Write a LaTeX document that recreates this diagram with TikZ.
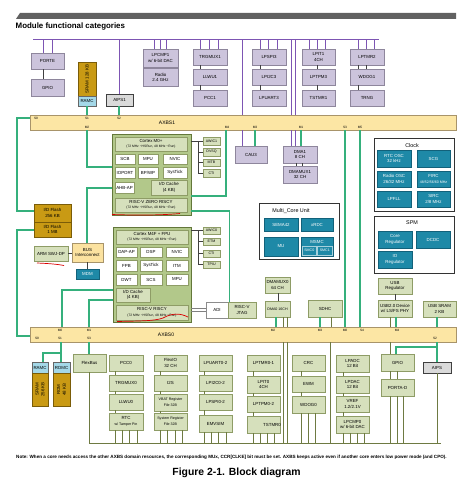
\documentclass[tikz,border=0pt]{standalone}
\usepackage{fontspec}
\setmainfont{Liberation Sans}
\definecolor{clav}{HTML}{CCC4DC}
\definecolor{clavd}{HTML}{8E869C}
\definecolor{cpurp}{HTML}{7D55B3}
\definecolor{cgrn}{HTML}{35B07C}
\definecolor{clgr}{HTML}{D6E0BC}
\definecolor{clgrd}{HTML}{8E9C66}
\definecolor{cmgr}{HTML}{B2C88A}
\definecolor{cmgrd}{HTML}{63773A}
\definecolor{caxb}{HTML}{FCE6A4}
\definecolor{caxbd}{HTML}{A8946A}
\definecolor{cgold}{HTML}{C99A14}
\definecolor{cgoldd}{HTML}{7A5C08}
\definecolor{ccyan}{HTML}{A4D8E8}
\definecolor{cteal}{HTML}{1E89A7}
\definecolor{ctealdk}{HTML}{12617A}
\definecolor{colv}{HTML}{6E7A42}
\definecolor{cgray}{HTML}{DADADA}
\definecolor{cbus}{HTML}{FBE2A0}
\newcommand\fBox{\fontsize{4.4}{5.6}\selectfont}
\newcommand\fSm{\fontsize{3.2}{3.8}\selectfont}
\newcommand\fFrq{\fontsize{3.3}{4.2}\selectfont}
\newcommand\fTtl{\fontsize{5.4}{6.4}\selectfont}
\newcommand\fTiny{\fontsize{3.6}{4.4}\selectfont}
\newcommand\frq{{\fFrq (72 MHz \textasciitilde HSRun, 48 MHz \textasciitilde Run)}}
\newcommand\bx[7]{\node[#1, minimum width={(#5-#3)*1pt}, minimum height={(#6-#4)*1pt}] (#2) at ({(#3+#5)/2},{(#4+#6)/2}) {#7};}
\newcommand\vl[4]{\draw[#1] (#2 -| #4,0) -- (#3 -| #4,0);}
\begin{document}
\begin{tikzpicture}[x=1pt,y=-1pt,
  bb/.style={font=\fBox, align=center, inner sep=0.2pt, line width=0.5pt},
  lv/.style={bb, fill=clav, draw=clavd},
  lg/.style={bb, fill=clgr, draw=clgrd},
  wb/.style={bb, fill=white, draw=clgrd},
  wg/.style={bb, fill=white, draw=black!45},
  tl/.style={bb, fill=cteal, draw=ctealdk, text=white},
  tls/.style={bb, font=\fTiny, fill=cteal, draw=white!60!cteal, text=white},
  gd/.style={bb, fill=cgold, draw=cgoldd},
  cy/.style={bb, fill=ccyan, draw=black!60},
  gy/.style={bb, fill=cgray, draw=black!75},
  mg/.style={bb, fill=cmgr, draw=cmgrd, line width=0.8pt},
  ax/.style={bb, fill=caxb, draw=caxbd, line width=0.6pt},
  bi/.style={bb, fill=cbus, draw=caxbd},
  bk/.style={bb, fill=white, draw=black!80, line width=0.9pt},
  sm/.style={bb, font=\fTiny},
  pl/.style={draw=cpurp, line width=0.8pt},
  gl/.style={draw=cgrn, line width=1.1pt},
  ol/.style={draw=colv, line width=0.8pt},
  kl/.style={draw=black!75, line width=0.6pt},
  pt/.style={font=\fSm, inner sep=0pt},
  tt/.style={font=\fTtl, inner sep=0pt},
  redl/.style={draw=red!85!black, line width=0.7pt}
]
\useasboundingbox (0,0) rectangle (474,486);
\fill[white] (0,0) rectangle (474,486);
\fill[black!62] (16,19) -- (20,13) -- (456,13) -- (456,19) -- cycle;
\node[anchor=west, inner sep=0, font=\bfseries\fontsize{7.9}{9}\selectfont] (title) at (15.5,26.5) {Module functional categories};

% ---------- top peripheral bus ----------
\coordinate (tbusW) at (33,39.5);
\coordinate (tbusE) at (379,39.5);
\draw[pl] (tbusW) -- (tbusE);

\bx{lv}{porte}{31}{53}{64}{69}{PORTE}
\bx{lv}{gpio1}{31}{79}{64}{96}{GPIO}
\bx{gd}{sram1}{78}{62}{96}{96}{}
\node[rotate=90, font=\fBox, inner sep=0] (sram1t) at (sram1) {SRAM 128 KB};
\bx{cy}{ramc1}{78}{96}{96}{106}{RAMC}
\bx{gy}{aips1}{106}{94}{133}{106}{AIPS1}
\bx{lv}{lpcmp1}{143}{49}{178}{67}{LPCMP1\\w/ 6-bit DAC}
\bx{lv}{radio}{143}{68.5}{178}{86}{Radio\\2.4 GHz}
\bx{lv}{trgmux1}{193}{49}{227}{65}{TRGMUX1}
\bx{lv}{llwu1}{193}{69}{227}{85}{LLWU1}
\bx{lv}{pcc1}{193}{90}{227}{106}{PCC1}
\bx{lv}{lpspi3}{252}{49}{286}{65}{LPSPI3}
\bx{lv}{lpi2c3}{252}{69}{286}{85}{LPI2C3}
\bx{lv}{lpuart3}{252}{90}{286}{106}{LPUART3}
\bx{lv}{lpit1}{302}{49}{335}{65}{LPIT1\\4CH}
\bx{lv}{lptpm3}{302}{69}{335}{85}{LPTPM3}
\bx{lv}{tstmr1}{302}{90}{335}{106}{TSTMR1}
\bx{lv}{lptmr2}{350}{49}{384}{65}{LPTMR2}
\bx{lv}{wdog1}{350}{69}{384}{85}{WDOG1}
\bx{lv}{trng}{350}{90}{384}{106}{TRNG}

\bx{ax}{axbs1}{30}{115}{456}{130}{}
\node[font=\fontsize{5}{6}\selectfont, inner sep=0] (axbs1l) at (167,122.5) {AXBS1};
\node[pt] (a1s0) at (36,118.5) {S0};
\node[pt] (a1s1) at (87,118.5) {S1};
\node[pt] (a1s2) at (119,118.5) {S2};
\node[pt] (a1m2) at (87,127.5) {M2};
\node[pt] (a1m4) at (227,127.5) {M4};
\node[pt] (a1m3) at (255,127.5) {M3};
\node[pt] (a1m1) at (301,127.5) {M1};
\node[pt] (a1s3) at (345,127.5) {S3};
\node[pt] (a1m5) at (360,127.5) {M5};

\foreach \x in {43,52} {\vl{pl}{tbusW}{porte.north}{\x}}
\vl{pl}{tbusW}{aips1.north}{119}
\foreach \x in {154,160,166} {\vl{pl}{tbusW}{lpcmp1.north}{\x}}
\foreach \x in {200,209,218} {\vl{pl}{tbusW}{trgmux1.north}{\x}}
\foreach \x in {260,268,277} {\vl{pl}{tbusW}{lpspi3.north}{\x}}
\foreach \x in {309,317,325} {\vl{pl}{tbusW}{lpit1.north}{\x}}
\foreach \x in {358,366,374} {\vl{pl}{tbusW}{lptmr2.north}{\x}}
\foreach \x in {242,291,295} {\vl{pl}{tbusW}{axbs1.north}{\x}}
\vl{kl}{porte.south}{gpio1.north}{43}
\vl{kl}{trgmux1.south}{llwu1.north}{200}
\vl{kl}{llwu1.south}{pcc1.north}{200}
\vl{kl}{lpspi3.south}{lpi2c3.north}{260}
\vl{kl}{lpi2c3.south}{lpuart3.north}{260}
\vl{kl}{lpit1.south}{lptpm3.north}{317}
\vl{kl}{lptpm3.south}{tstmr1.north}{317}
\vl{kl}{lptmr2.south}{wdog1.north}{358}
\vl{kl}{lptmr2.south}{wdog1.north}{366}
\vl{kl}{wdog1.south}{trng.north}{358}
\vl{gl}{aips1.south}{axbs1.north}{119}
\vl{gl}{ramc1.south}{axbs1.north}{87}

% ---------- CAU3 / DMA1 ----------
\bx{lv}{cau3}{235}{146}{267}{163}{CAU3}
\bx{lv}{dma1}{283}{146}{317}{163}{DMA1\\8 CH}
\bx{lv}{dmamux1}{283}{166}{317}{183}{DMAMUX1\\32 CH}
\vl{pl}{axbs1.south}{cau3.north}{242}
\vl{gl}{axbs1.south}{cau3.north}{255}
\vl{pl}{axbs1.south}{dma1.north}{291}
\vl{pl}{axbs1.south}{dma1.north}{295}
\vl{gl}{axbs1.south}{dma1.north}{301}
\vl{kl}{dma1.south}{dmamux1.north}{296}
\vl{kl}{dma1.south}{dmamux1.north}{302}

% ---------- Cortex M0+ ----------
\bx{mg}{m0}{112}{134}{191}{215}{}
\bx{lg}{m0t}{115}{137}{187}{151}{Cortex M0+\\\frq}
\bx{wb}{scb}{115}{154}{135}{164}{SCB}
\bx{wb}{mpu1}{138}{154}{158}{164}{MPU}
\bx{wb}{nvic1}{163}{154}{187}{164}{NVIC}
\bx{wb}{ioport}{115}{167}{135}{178}{IOPORT}
\bx{wb}{bpwp}{138}{167}{158}{178}{BP/WP}
\bx{wb}{systick1}{163}{167}{187}{178}{SysTick}
\bx{wb}{ahbap}{115}{182}{134}{193}{AHB-AP}
\bx{lg}{cache1}{151}{180}{187}{195}{I/D Cache\\(4 KB)}
\bx{lg}{zero}{115}{198}{187}{212}{RISC-V ZERO RISCY\\\frq}
\draw[redl] (112,214.5) .. controls (140,215.5) and (165,215) .. (180,213.5);

\bx{sm, fill=clgr, draw=clgrd}{awic1}{203}{137}{220}{145}{AWIC1}
\bx{sm, fill=clgr, draw=clgrd}{dvsq}{203}{148}{220}{156}{DVSQ}
\bx{sm, fill=clgr, draw=clgrd}{mtb}{203}{159}{220}{166}{MTB}
\bx{sm, fill=clgr, draw=clgrd}{cti1}{203}{169}{220}{177}{CTI}
\coordinate (b1t) at (198,141);
\coordinate (b1b) at (198,173);
\draw[kl] (b1t) -- (b1b);
\foreach \n in {awic1,dvsq,mtb,cti1} {\draw[kl] (\n.west) -- (\n.west -| b1t);}
\draw[kl] (m0.east |- b1t) -- (b1t);

% ---------- Cortex M4F ----------
\bx{mg}{m4}{113}{227}{191}{322}{}
\bx{lg}{m4t}{116}{230}{188}{244}{Cortex M4F + FPU\\\frq}
\bx{wb}{dapap}{116}{247}{137}{257}{DAP-AP}
\bx{wb}{dsp}{140}{247}{162}{257}{DSP}
\bx{wb}{nvic0}{166}{247}{188}{257}{NVIC}
\bx{wb}{fpb}{116}{260}{137}{271}{FPB}
\bx{wb}{systick0}{140}{260}{162}{271}{SysTick}
\bx{wb}{itm}{166}{260}{188}{271}{ITM}
\bx{wb}{dwt}{116}{274}{137}{285}{DWT}
\bx{wb}{scs}{140}{274}{162}{285}{SCS}
\bx{wb}{mpu0}{166}{274}{188}{285}{MPU}
\bx{lg}{cache0}{116}{288}{150}{302}{I/D Cache\\(4 KB)}
\bx{lg}{riscy}{116}{305}{188}{320}{RISC-V RISCY\\\frq}
\draw[redl] (117,321.5) .. controls (140,321) and (155,321) .. (163,318) .. controls (172,313) and (180,313) .. (188,317);

\bx{sm, fill=clgr, draw=clgrd}{awic0}{203}{227}{220}{234}{AWIC0}
\bx{sm, fill=clgr, draw=clgrd}{etm}{203}{238}{220}{245}{ETM}
\bx{sm, fill=clgr, draw=clgrd}{cti0}{203}{250}{220}{257}{CTI}
\bx{sm, fill=clgr, draw=clgrd}{tpiu}{203}{261}{220}{268}{TPIU}
\coordinate (b0t) at (198,230.5);
\coordinate (b0b) at (198,264.5);
\draw[kl] (b0t) -- (b0b);
\foreach \n in {awic0,etm,cti0,tpiu} {\draw[kl] (\n.west) -- (\n.west -| b0t);}
\draw[kl] (m4.east |- b0t) -- (b0t);

\bx{wg}{adi}{206}{302}{228}{318}{ADI}
\bx{lg}{jtag}{228}{302}{256}{318}{RISC-V\\JTAG}
\draw[black!50, line width=0.5pt] (m4.east |- 0,308) -- (adi.west |- 0,308);
\draw[black!50, line width=0.5pt] (m4.east |- 0,311) -- (adi.west |- 0,311);

% ---------- flash / debug ----------
\bx{gd}{fl256}{34}{204}{71}{222}{I/D Flash\\256 KB}
\bx{gd}{fl1m}{34}{222}{71}{237}{I/D Flash\\1 MB}
\bx{lg}{swj}{34}{246}{68}{261}{ARM SWJ-DP}
\bx{bi}{busic}{72}{243}{103}{262}{BUS\\Interconnect}
\bx{tl}{mdm}{76}{269}{99}{279}{MDM}
\draw[kl] (swj.east |- 0,253) -- (busic.west |- 0,253);
\vl{kl}{busic.south}{mdm.north}{87}
\draw[redl] (37,263) .. controls (48,263.5) and (56,264) .. (64,265.5);

% ---------- multi-core ----------
\bx{bk}{mcu}{259}{203}{339}{259}{}
\node[tt] (mcut) at (291,211) {Multi\_Core Unit};
\bx{tl}{sema}{264}{218}{298}{231}{SEMA42}
\bx{tl}{xrdc}{301}{218}{333}{231}{xRDC}
\bx{tl}{mu}{264}{237}{298}{256}{MU}
\bx{tl}{msmc}{301}{237}{333}{256}{}
\node[font=\fBox, text=white, inner sep=0] (msmct) at (317,241.5) {MSMC};
\bx{tls}{smc0}{302}{246}{316.5}{255}{SMC0}
\bx{tls}{smc1}{317.5}{246}{332}{255}{SMC1}

% ---------- clock ----------
\bx{bk}{clock}{374}{138}{454}{211}{}
\node[tt] (clockt) at (412,146) {Clock};
\bx{tl}{rtcosc}{377}{150}{411}{167}{RTC OSC\\32 kHz}
\bx{tl}{scg}{417}{150}{450}{167}{SCG}
\bx{tl}{rosc}{377}{171}{411}{187}{Radio OSC\\26/32 MHz}
\bx{tl}{firc}{417}{171}{450}{187}{FIRC\\{\fTiny 48/52/56/60 MHz}}
\bx{tl}{lpfll}{377}{191}{411}{207}{LPFLL}
\bx{tl}{sirc}{417}{191}{450}{207}{SIRC\\2/8 MHz}

% ---------- SPM ----------
\bx{bk}{spm}{374}{216}{454}{273}{}
\node[tt] (spmt) at (412,223) {SPM};
\bx{tl}{corereg}{378}{231}{412}{248}{Core\\Regulator}
\bx{tl}{dcdc}{416}{231}{450}{248}{DCDC}
\bx{tl}{ioreg}{378}{251}{412}{268}{IO\\Regulator}

% ---------- DMA0 / SDHC / USB ----------
\bx{lg}{dmamux0}{265}{277}{290}{293}{DMAMUX0\\64 CH}
\bx{lg}{dma0}{265}{301}{290}{317}{{\fTiny DMA0 16CH}}
\vl{kl}{dmamux0.south}{dma0.north}{278}
\bx{lg}{sdhc}{308}{300}{342}{317}{SDHC}
\bx{lg}{usbreg}{378}{278}{412}{294}{USB\\Regulator}
\bx{lg}{usbdev}{378}{300}{412}{317}{USB2.0 Device\\w/ LS/FS PHY}
\bx{lg}{usbsram}{423}{301}{456}{317}{USB SRAM\\2 KB}
\vl{kl}{usbreg.south}{usbdev.north}{395}

% ---------- AXBS0 ----------
\bx{ax}{axbs0}{30}{327}{456}{342}{}
\node[font=\fontsize{5}{6}\selectfont, inner sep=0] (axbs0l) at (166,334.5) {AXBS0};
\node[pt] (a0m0) at (60,330.5) {M0};
\node[pt] (a0s1) at (60,338.5) {S1};
\node[pt] (a0m1) at (89,330.5) {M1};
\node[pt] (a0s3) at (89,338.5) {S3};
\node[pt] (a0s0) at (37,338.5) {S0};
\node[pt] (a0m2) at (273,330.5) {M2};
\node[pt] (a0m3) at (320,330.5) {M3};
\node[pt] (a0m8) at (345,330.5) {M8};
\node[pt] (a0s4) at (362,330.5) {S4};
\node[pt] (a0m4) at (397,330.5) {M4};
\node[pt] (a0s2) at (435,338.5) {S2};

% green masters / slaves between the crossbars
\draw[gl] (axbs1.west |- 0,118) -| (17,211) -- (fl256.west |- 0,211);
\draw[gl] (fl1m.west |- 0,230) -| (17,336) -- (axbs0.west |- 0,336);
\draw[gl] (axbs1.south -| 87,0) |- (m0.west |- 0,167);
\draw[gl] (m0.west |- 0,188) -| (busic.north -| 87,0);
\draw[gl] (axbs1.south -| 226,0) |- (m0.east |- 0,196);
\draw[gl] (m0.east |- 0,211) -| (jtag.north -| 229.5,0);
\draw[gl] (m4.west |- 0,290) -| (axbs0.north -| 62,0);
\draw[gl] (m4.west |- 0,300) -| (axbs0.north -| 89,0);
\vl{gl}{axbs1.south}{axbs0.north}{345}
\vl{gl}{axbs1.south}{axbs0.north}{360}
\vl{gl}{dma0.south}{axbs0.north}{276}
\vl{ol}{dma0.south}{axbs0.north}{283}
\vl{ol}{dma0.south}{axbs0.north}{287}
\vl{gl}{sdhc.south}{axbs0.north}{320}
\vl{ol}{sdhc.south}{axbs0.north}{331}
\vl{ol}{usbdev.south}{axbs0.north}{390}
\vl{gl}{usbdev.south}{axbs0.north}{396}
\vl{gl}{usbsram.south}{axbs0.north}{437}

% ---------- below AXBS0 ----------
\bx{cy}{ramc0}{32}{362}{48}{373}{RAMC}
\bx{gd}{sram0}{32}{373}{48}{406}{}
\node[rotate=90, font=\fBox, align=center, inner sep=0] (sram0t) at (sram0) {SRAM\\256 KB};
\bx{cy}{romc}{53}{362}{70}{373}{ROMC}
\bx{gd}{rom}{53}{373}{70}{406}{}
\node[rotate=90, font=\fBox, align=center, inner sep=0] (romt) at (rom) {ROM\\48 KB};
\vl{gl}{axbs0.south}{romc.north}{61}
\draw[gl] (61,353) -| (ramc0.north -| 43,0);
\bx{lg}{flexbus}{73}{354}{106}{372}{FlexBus}
\vl{gl}{axbs0.south}{flexbus.north}{89}

\coordinate (bbusW) at (89,443);
\coordinate (bbusE) at (441,443);
\draw[ol] (bbusW) -- (bbusE);
\vl{ol}{flexbus.south}{bbusW}{89}

\bx{lg}{pcc0}{109}{355}{143}{371}{PCC0}
\bx{lg}{trgmux0}{109}{375}{143}{391}{TRGMUX0}
\bx{lg}{llwu0}{109}{394}{143}{410}{LLWU0}
\bx{lg}{rtc0}{109}{413}{143}{430}{RTC\\{\fTiny w/ Tamper Pin}}
\vl{ol}{pcc0.south}{trgmux0.north}{115}
\vl{ol}{trgmux0.south}{llwu0.north}{115}
\vl{ol}{llwu0.south}{rtc0.north}{115}
\foreach \x in {115,122,129,137} {\vl{ol}{rtc0.south}{bbusW}{\x}}

\bx{lg}{flexio}{154}{355}{187}{371}{FlexIO\\32 CH}
\bx{lg}{i2s}{154}{375}{187}{391}{I2S}
\bx{lg}{vbat}{154}{394}{187}{411}{{\fTiny VBAT Register}\\{\fTiny File 32B}}
\bx{lg}{sysreg}{154}{413}{187}{430}{{\fTiny System Register}\\{\fTiny File 32B}}
\vl{ol}{flexio.south}{i2s.north}{160}
\vl{ol}{i2s.south}{vbat.north}{160}
\vl{ol}{vbat.south}{sysreg.north}{160}
\foreach \x in {160,167,175,182} {\vl{ol}{sysreg.south}{bbusW}{\x}}

\bx{lg}{lpuart0}{199}{355}{232}{371}{LPUART0-2}
\bx{lg}{lpi2c0}{199}{375}{232}{391}{LPI2C0-2}
\bx{lg}{lpspi0}{199}{394}{232}{410}{LPSPI0-2}
\bx{lg}{emvsim}{199}{415}{232}{432}{EMVSIM}
\vl{ol}{lpuart0.south}{lpi2c0.north}{204}
\vl{ol}{lpi2c0.south}{lpspi0.north}{204}
\vl{ol}{lpspi0.south}{emvsim.north}{204}
\foreach \x in {204,211,218,226} {\vl{ol}{emvsim.south}{bbusW}{\x}}

\bx{lg}{lptmr0}{247}{355}{280}{371}{LPTMR0-1}
\bx{lg}{lpit0}{247}{376}{280}{393}{LPIT0\\4CH}
\bx{lg}{lptpm0}{247}{396}{280}{412}{LPTPM0-2}
\bx{lg}{tstmr0}{247}{416}{280}{433}{}
\node[font=\fBox, inner sep=0] (tstmr0t) at (272,424.5) {TSTMR0};
\vl{ol}{lptmr0.south}{lpit0.north}{253}
\vl{ol}{lpit0.south}{lptpm0.north}{253}
\vl{ol}{lptpm0.south}{tstmr0.north}{253}
\foreach \x in {253,260,267,274} {\vl{ol}{tstmr0.south}{bbusW}{\x}}
\vl{ol}{axbs0.south}{bbusW}{283}
\vl{ol}{axbs0.south}{bbusW}{287}

\bx{lg}{crc}{292}{355}{325}{371}{CRC}
\bx{lg}{ewm}{292}{376}{325}{392}{EWM}
\bx{lg}{wdog0}{292}{396}{325}{413}{WDOG0}
\vl{ol}{crc.south}{ewm.north}{301}
\vl{ol}{ewm.south}{wdog0.north}{301}
\foreach \x in {301,308,315} {\vl{ol}{wdog0.south}{bbusW}{\x}}
\vl{ol}{axbs0.south}{bbusW}{330}

\bx{lg}{lpadc}{336}{355}{369}{372}{LPADC\\12 Bit}
\bx{lg}{lpdac}{336}{376}{369}{393}{LPDAC\\12 Bit}
\bx{lg}{vref}{336}{396}{369}{412}{VREF\\1.2/2.1V}
\bx{lg}{lpcmp0}{336}{416}{369}{433}{LPCMP0\\w/ 6-bit DAC}
\vl{ol}{lpadc.south}{lpdac.north}{343}
\vl{ol}{lpdac.south}{vref.north}{343}
\vl{ol}{vref.south}{lpcmp0.north}{343}
\foreach \x in {343,350,357,364} {\vl{ol}{lpcmp0.south}{bbusW}{\x}}

\bx{lg}{gpio0}{381}{354}{414}{371}{GPIO}
\bx{lg}{porta}{381}{379}{414}{396}{PORTA-D}
\vl{ol}{axbs0.south}{gpio0.north}{390}
\vl{ol}{gpio0.south}{porta.north}{390}
\vl{ol}{gpio0.south}{porta.north}{397}
\foreach \x in {390,397,403} {\vl{ol}{porta.south}{bbusW}{\x}}

\bx{gy}{aips0}{423}{362}{451}{373}{AIPS}
\vl{gl}{axbs0.south}{aips0.north}{437}
\draw[gl] (437,347) -| (gpio0.north -| 396,0);
\vl{ol}{aips0.south}{bbusE}{437}

% ---------- note and caption ----------
\node[anchor=west, inner sep=0, font=\bfseries\fontsize{4.6}{5.5}\selectfont] (note) at (16,457) {Note: When a core needs access the other AXBS domain resources, the corresponding MUx, CCR[CLKE] bit must be set. AXBS keeps active even if another core enters low power mode (and CPO).};
\node[inner sep=0, font=\bfseries\fontsize{10.4}{12}\selectfont] (cap) at (236.5,473) {Figure 2-1. Block diagram};
\end{tikzpicture}
\end{document}
